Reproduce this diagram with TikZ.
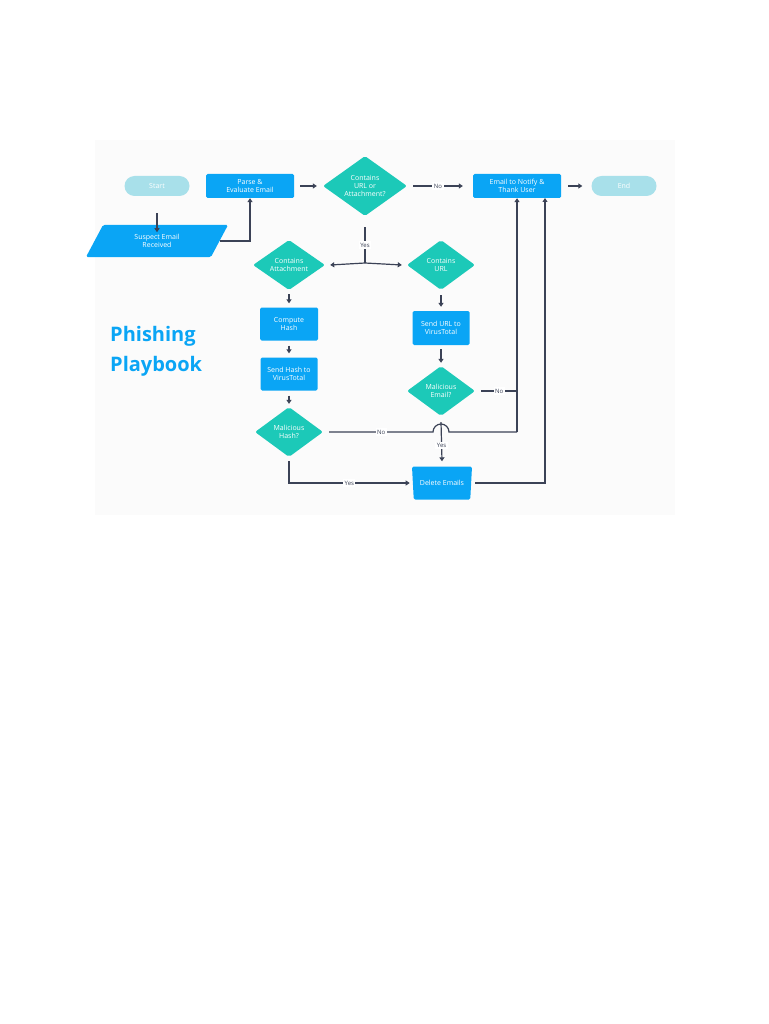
\documentclass[tikz,border=0pt]{standalone}
\usepackage{fontspec}
\setmainfont{Open Sans}
\usetikzlibrary{shapes.geometric,arrows.meta}
\definecolor{blu}{HTML}{0AA5F5}
\definecolor{tea}{HTML}{1CC9B8}
\definecolor{pill}{HTML}{A8E0EA}
\definecolor{ln}{HTML}{3B4256}
\begin{document}
\begin{tikzpicture}[x=1pt,y=-1pt,
  txt/.style={text=white,font=\fontsize{7}{8}\selectfont,align=center,inner sep=0pt},
  pil/.style={txt,fill=pill,rounded corners=10pt,minimum width=65pt,minimum height=20pt},
  box/.style={txt,fill=blu,rounded corners=1.5pt,minimum width=58pt,minimum height=33pt},
  dia/.style={txt,fill=tea,diamond,rounded corners=2pt,minimum width=70pt,minimum height=50pt,aspect=1.4},
  ar/.style={draw=ln,line width=1.2pt,-{Triangle[length=4pt,width=5pt]}},
  pl/.style={draw=ln,line width=1.2pt},
  lb/.style={fill=white,text=ln,font=\fontsize{6}{7}\selectfont,inner sep=1.5pt}]
\useasboundingbox (0,0) rectangle (768,1024);
\fill[white] (0,0) rectangle (768,1024);
\fill[gray!3] (95,140) rectangle (675,515);
\node[pil] (start) at (157,186) {Start};
\node[pil] (end) at (624,186) {End};
\node[txt,fill=blu,trapezium,trapezium left angle=62,trapezium right angle=118,minimum width=88pt,minimum height=32pt,rounded corners=1.5pt] (sus) at (157,241) {Suspect Email\\Received};
\node[box,minimum width=88pt,minimum height=24pt] (parse) at (250,186) {Parse \&\\Evaluate Email};
\node[dia,minimum width=84pt,minimum height=60pt] (d1) at (365,186) {Contains\\URL or\\Attachment?};
\node[box,minimum width=88pt,minimum height=24pt] (notify) at (517,186) {Email to Notify \&\\Thank User};
\node[dia,minimum width=72pt] (catt) at (289,265) {Contains\\Attachment};
\node[dia,minimum width=68pt] (curl) at (441,265) {Contains\\URL};
\node[box] (comp) at (289,324) {Compute\\Hash};
\node[box,minimum width=57pt,minimum height=34pt] (surl) at (441,328) {Send URL to\\VirusTotal};
\node[box,minimum width=57pt] (shash) at (289,374) {Send Hash to\\VirusTotal};
\node[dia,minimum width=68pt] (memail) at (441,391) {Malicious\\Email?};
\node[dia,minimum width=68pt] (mhash) at (289,432) {Malicious\\Hash?};
\node[txt,fill=blu,trapezium,shape border rotate=180,trapezium angle=72,minimum width=60pt,minimum height=33pt,trapezium stretches body,rounded corners=1.5pt] (del) at (442,483) {Delete Emails};
\node[anchor=west,text=blu,font=\bfseries\fontsize{20}{30}\selectfont,align=left,inner sep=0pt] (title) at (110,351) {Phishing\\Playbook};
% connectors
\draw[ar] ([yshift=-17pt]start.south) -- ([yshift=-36pt]start.south);
\draw[ar] (sus.east) -| (parse.south);
\draw[ar] ([xshift=6pt]parse.east) -- ([xshift=-6pt]d1.west);
\draw[ar] ([xshift=6pt]d1.east) -- node[lb]{No} ([xshift=-10pt]notify.west);
\draw[ar] ([xshift=7pt]notify.east) -- ([xshift=-9pt]end.west);
\coordinate (j) at (365,263);
\draw[pl] ([yshift=-11pt]d1.south) -- node[lb]{Yes} (j);
\draw[ar] (j) -- ([xshift=5pt]catt.east);
\draw[ar] (j) -- ([xshift=-5pt]curl.west);
\draw[ar] ([yshift=-4pt]catt.south) -- ([yshift=4pt]comp.north);
\draw[ar] ([yshift=-5pt]comp.south) -- ([yshift=4pt]shash.north);
\draw[ar] ([yshift=-5pt]shash.south) -- ([yshift=3pt]mhash.north);
\draw[ar] ([yshift=-5pt]curl.south) -- ([yshift=4pt]surl.north);
\draw[ar] ([yshift=-4pt]surl.south) -- ([yshift=3pt]memail.north);
\coordinate (c1) at (517,432);
\coordinate (c2) at (517,391);
\draw[pl] ([xshift=6pt]mhash.east) -- node[lb]{No} (433,432) arc[start angle=180,end angle=0,radius=8pt] -- (c1);
\draw[ar] (c1) -- (notify.south);
\draw[pl] ([xshift=6pt]memail.east) -- node[lb]{No} (c2);
\draw[ar] ([yshift=-6pt]memail.south) -- node[lb,pos=0.6]{Yes} ([yshift=5pt]del.north);
\draw[ar] ([yshift=-4pt]mhash.south) |- node[lb,pos=0.75]{Yes} ([xshift=-3pt]del.west);
\draw[ar] ([xshift=4pt]del.east) -| (545,198);
\end{tikzpicture}
\end{document}
